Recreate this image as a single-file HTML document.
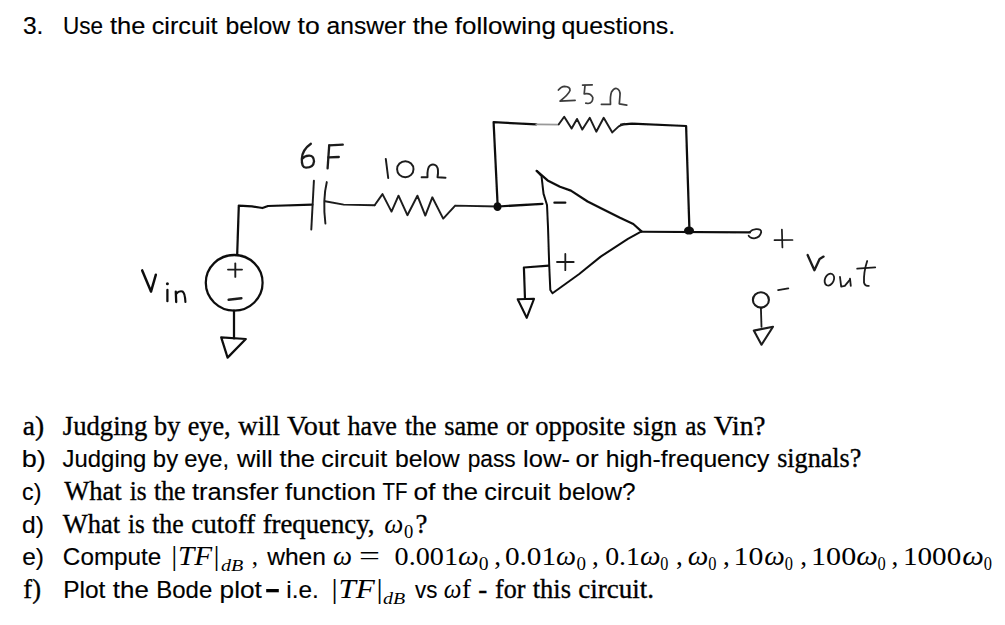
<!DOCTYPE html>
<html><head><meta charset="utf-8"><style>
html,body{margin:0;padding:0;background:#fff;overflow:hidden;}
svg{display:block;}
text{fill:#000;}
</style></head><body>
<svg width="1005" height="625" viewBox="0 0 1005 625">
<rect width="1005" height="625" fill="#fff"/>
<rect x="266.2" y="589" width="12.6" height="3.3" fill="#000"/>
<g class="txt" stroke="#000" stroke-width="0.25">
<text x="23.00" y="34.1" style="font-family:'Liberation Sans',sans-serif;font-size:23.7px;stroke-width:0.15;" textLength="20.44" lengthAdjust="spacingAndGlyphs">3.</text>
<text x="63.05" y="34.1" style="font-family:'Liberation Sans',sans-serif;font-size:23.7px;stroke-width:0.15;" textLength="40.07" lengthAdjust="spacingAndGlyphs">Use</text>
<text x="110.00" y="34.1" style="font-family:'Liberation Sans',sans-serif;font-size:23.7px;stroke-width:0.15;" textLength="35.51" lengthAdjust="spacingAndGlyphs">the</text>
<text x="151.78" y="34.1" style="font-family:'Liberation Sans',sans-serif;font-size:23.7px;stroke-width:0.15;" textLength="65.85" lengthAdjust="spacingAndGlyphs">circuit</text>
<text x="225.42" y="34.1" style="font-family:'Liberation Sans',sans-serif;font-size:23.7px;stroke-width:0.15;" textLength="64.80" lengthAdjust="spacingAndGlyphs">below</text>
<text x="297.64" y="34.1" style="font-family:'Liberation Sans',sans-serif;font-size:23.7px;stroke-width:0.15;" textLength="22.19" lengthAdjust="spacingAndGlyphs">to</text>
<text x="326.52" y="34.1" style="font-family:'Liberation Sans',sans-serif;font-size:23.7px;stroke-width:0.15;" textLength="79.39" lengthAdjust="spacingAndGlyphs">answer</text>
<text x="412.65" y="34.1" style="font-family:'Liberation Sans',sans-serif;font-size:23.7px;stroke-width:0.15;" textLength="35.51" lengthAdjust="spacingAndGlyphs">the</text>
<text x="454.88" y="34.1" style="font-family:'Liberation Sans',sans-serif;font-size:23.7px;stroke-width:0.15;" textLength="101.08" lengthAdjust="spacingAndGlyphs">following</text>
<text x="561.43" y="34.1" style="font-family:'Liberation Sans',sans-serif;font-size:23.7px;stroke-width:0.15;" textLength="113.74" lengthAdjust="spacingAndGlyphs">questions.</text>
<text x="22.80" y="435.3" style="font-family:'Liberation Serif',serif;font-size:27px;stroke-width:0.35;" textLength="21.31" lengthAdjust="spacingAndGlyphs">a)</text>
<text x="62.80" y="435.3" style="font-family:'Liberation Serif',serif;font-size:27px;stroke-width:0.35;" textLength="84.48" lengthAdjust="spacingAndGlyphs">Judging</text>
<text x="154.02" y="435.3" style="font-family:'Liberation Serif',serif;font-size:27px;stroke-width:0.35;" textLength="26.27" lengthAdjust="spacingAndGlyphs">by</text>
<text x="187.67" y="435.3" style="font-family:'Liberation Serif',serif;font-size:27px;stroke-width:0.35;" textLength="42.95" lengthAdjust="spacingAndGlyphs">eye,</text>
<text x="238.32" y="435.3" style="font-family:'Liberation Serif',serif;font-size:27px;stroke-width:0.35;" textLength="41.72" lengthAdjust="spacingAndGlyphs">will</text>
<text x="287.10" y="435.3" style="font-family:'Liberation Serif',serif;font-size:27px;stroke-width:0.35;" textLength="52.74" lengthAdjust="spacingAndGlyphs">Vout</text>
<text x="347.49" y="435.3" style="font-family:'Liberation Serif',serif;font-size:27px;stroke-width:0.35;" textLength="49.49" lengthAdjust="spacingAndGlyphs">have</text>
<text x="404.91" y="435.3" style="font-family:'Liberation Serif',serif;font-size:27px;stroke-width:0.35;" textLength="31.61" lengthAdjust="spacingAndGlyphs">the</text>
<text x="444.31" y="435.3" style="font-family:'Liberation Serif',serif;font-size:27px;stroke-width:0.35;" textLength="54.12" lengthAdjust="spacingAndGlyphs">same</text>
<text x="506.13" y="435.3" style="font-family:'Liberation Serif',serif;font-size:27px;stroke-width:0.35;" textLength="22.09" lengthAdjust="spacingAndGlyphs">or</text>
<text x="535.21" y="435.3" style="font-family:'Liberation Serif',serif;font-size:27px;stroke-width:0.35;" textLength="90.03" lengthAdjust="spacingAndGlyphs">opposite</text>
<text x="633.04" y="435.3" style="font-family:'Liberation Serif',serif;font-size:27px;stroke-width:0.35;" textLength="43.75" lengthAdjust="spacingAndGlyphs">sign</text>
<text x="685.34" y="435.3" style="font-family:'Liberation Serif',serif;font-size:27px;stroke-width:0.35;" textLength="20.93" lengthAdjust="spacingAndGlyphs">as</text>
<text x="713.79" y="435.3" style="font-family:'Liberation Serif',serif;font-size:27px;stroke-width:0.35;" textLength="51.81" lengthAdjust="spacingAndGlyphs">Vin?</text>
<text x="21.66" y="467.2" style="font-family:'Liberation Sans',sans-serif;font-size:23.7px;stroke-width:0.15;" textLength="24.06" lengthAdjust="spacingAndGlyphs">b)</text>
<text x="62.60" y="467.2" style="font-family:'Liberation Sans',sans-serif;font-size:23.7px;stroke-width:0.15;" textLength="83.71" lengthAdjust="spacingAndGlyphs">Judging</text>
<text x="152.86" y="467.2" style="font-family:'Liberation Sans',sans-serif;font-size:23.7px;stroke-width:0.15;" textLength="25.21" lengthAdjust="spacingAndGlyphs">by</text>
<text x="184.23" y="467.2" style="font-family:'Liberation Sans',sans-serif;font-size:23.7px;stroke-width:0.15;" textLength="44.94" lengthAdjust="spacingAndGlyphs">eye,</text>
<text x="237.06" y="467.2" style="font-family:'Liberation Sans',sans-serif;font-size:23.7px;stroke-width:0.15;" textLength="35.58" lengthAdjust="spacingAndGlyphs">will</text>
<text x="279.54" y="467.2" style="font-family:'Liberation Sans',sans-serif;font-size:23.7px;stroke-width:0.15;" textLength="35.51" lengthAdjust="spacingAndGlyphs">the</text>
<text x="321.32" y="467.2" style="font-family:'Liberation Sans',sans-serif;font-size:23.7px;stroke-width:0.15;" textLength="65.86" lengthAdjust="spacingAndGlyphs">circuit</text>
<text x="394.98" y="467.2" style="font-family:'Liberation Sans',sans-serif;font-size:23.7px;stroke-width:0.15;" textLength="64.81" lengthAdjust="spacingAndGlyphs">below</text>
<text x="467.68" y="467.2" style="font-family:'Liberation Sans',sans-serif;font-size:23.7px;stroke-width:0.15;" textLength="47.97" lengthAdjust="spacingAndGlyphs">pass</text>
<text x="523.13" y="467.2" style="font-family:'Liberation Sans',sans-serif;font-size:23.7px;stroke-width:0.15;" textLength="46.79" lengthAdjust="spacingAndGlyphs">low-</text>
<text x="575.64" y="467.2" style="font-family:'Liberation Sans',sans-serif;font-size:23.7px;stroke-width:0.15;" textLength="23.07" lengthAdjust="spacingAndGlyphs">or</text>
<text x="605.85" y="467.2" style="font-family:'Liberation Sans',sans-serif;font-size:23.7px;stroke-width:0.15;" textLength="163.48" lengthAdjust="spacingAndGlyphs">high-frequency</text>
<text x="777.23" y="467.2" style="font-family:'Liberation Serif',serif;font-size:27px;stroke-width:0.35;" textLength="84.02" lengthAdjust="spacingAndGlyphs">signals?</text>
<text x="22.02" y="500.4" style="font-family:'Liberation Sans',sans-serif;font-size:23.7px;stroke-width:0.15;" textLength="19.35" lengthAdjust="spacingAndGlyphs">c)</text>
<text x="64.30" y="500.4" style="font-family:'Liberation Serif',serif;font-size:27px;stroke-width:0.35;" textLength="57.46" lengthAdjust="spacingAndGlyphs">What</text>
<text x="129.68" y="500.4" style="font-family:'Liberation Serif',serif;font-size:27px;stroke-width:0.35;" textLength="16.85" lengthAdjust="spacingAndGlyphs">is</text>
<text x="154.00" y="500.4" style="font-family:'Liberation Serif',serif;font-size:27px;stroke-width:0.35;" textLength="31.59" lengthAdjust="spacingAndGlyphs">the</text>
<text x="192.00" y="500.4" style="font-family:'Liberation Sans',sans-serif;font-size:23.7px;stroke-width:0.15;" textLength="86.48" lengthAdjust="spacingAndGlyphs">transfer</text>
<text x="285.12" y="500.4" style="font-family:'Liberation Sans',sans-serif;font-size:23.7px;stroke-width:0.15;" textLength="90.70" lengthAdjust="spacingAndGlyphs">function</text>
<text x="382.42" y="500.4" style="font-family:'Liberation Sans',sans-serif;font-size:23.7px;stroke-width:0.15;" textLength="25.05" lengthAdjust="spacingAndGlyphs">TF</text>
<text x="413.41" y="500.4" style="font-family:'Liberation Sans',sans-serif;font-size:23.7px;stroke-width:0.15;" textLength="22.00" lengthAdjust="spacingAndGlyphs">of</text>
<text x="442.36" y="500.4" style="font-family:'Liberation Sans',sans-serif;font-size:23.7px;stroke-width:0.15;" textLength="35.67" lengthAdjust="spacingAndGlyphs">the</text>
<text x="484.33" y="500.4" style="font-family:'Liberation Sans',sans-serif;font-size:23.7px;stroke-width:0.15;" textLength="66.16" lengthAdjust="spacingAndGlyphs">circuit</text>
<text x="558.35" y="500.4" style="font-family:'Liberation Sans',sans-serif;font-size:23.7px;stroke-width:0.15;" textLength="77.23" lengthAdjust="spacingAndGlyphs">below?</text>
<text x="21.96" y="532.5" style="font-family:'Liberation Sans',sans-serif;font-size:23.7px;stroke-width:0.15;" textLength="21.86" lengthAdjust="spacingAndGlyphs">d)</text>
<text x="62.80" y="532.5" style="font-family:'Liberation Serif',serif;font-size:27px;stroke-width:0.35;" textLength="57.26" lengthAdjust="spacingAndGlyphs">What</text>
<text x="127.95" y="532.5" style="font-family:'Liberation Serif',serif;font-size:27px;stroke-width:0.35;" textLength="16.79" lengthAdjust="spacingAndGlyphs">is</text>
<text x="152.19" y="532.5" style="font-family:'Liberation Serif',serif;font-size:27px;stroke-width:0.35;" textLength="31.48" lengthAdjust="spacingAndGlyphs">the</text>
<text x="191.31" y="532.5" style="font-family:'Liberation Serif',serif;font-size:27px;stroke-width:0.35;" textLength="63.84" lengthAdjust="spacingAndGlyphs">cutoff</text>
<text x="262.68" y="532.5" style="font-family:'Liberation Serif',serif;font-size:27px;stroke-width:0.35;" textLength="111.86" lengthAdjust="spacingAndGlyphs">frequency,</text>
<text x="384.20" y="532.5" style="font-family:'Liberation Serif',serif;font-size:27px;font-style:italic;stroke:none;" textLength="19.06" lengthAdjust="spacingAndGlyphs">ω</text>
<text x="403.90" y="537.9" style="font-family:'Liberation Serif',serif;font-size:18px;stroke:none;" textLength="9.30" lengthAdjust="spacingAndGlyphs">0</text>
<text x="415.41" y="532.5" style="font-family:'Liberation Serif',serif;font-size:27px;stroke-width:0.35;" textLength="11.86" lengthAdjust="spacingAndGlyphs">?</text>
<text x="22.27" y="564.5" style="font-family:'Liberation Sans',sans-serif;font-size:23.7px;stroke-width:0.15;" textLength="21.75" lengthAdjust="spacingAndGlyphs">e)</text>
<text x="62.88" y="564.5" style="font-family:'Liberation Sans',sans-serif;font-size:23.7px;stroke-width:0.15;" textLength="98.50" lengthAdjust="spacingAndGlyphs">Compute</text>
<text x="169.85" y="564.5" style="font-family:'Liberation Serif',serif;font-size:27px;font-style:italic;stroke:none;" textLength="50.28" lengthAdjust="spacingAndGlyphs">|TF|</text>
<text x="220.90" y="570.5" style="font-family:'Liberation Serif',serif;font-size:16px;font-style:italic;stroke:none;" textLength="22.32" lengthAdjust="spacingAndGlyphs">dB</text>
<text x="251.80" y="564.5" style="font-family:'Liberation Serif',serif;font-size:25px;stroke:none;">,</text>
<text x="267.24" y="564.5" style="font-family:'Liberation Sans',sans-serif;font-size:23.7px;stroke-width:0.15;" textLength="58.68" lengthAdjust="spacingAndGlyphs">when</text>
<text x="333.00" y="564.5" style="font-family:'Liberation Serif',serif;font-size:27px;font-style:italic;stroke:none;" textLength="18.96" lengthAdjust="spacingAndGlyphs">ω</text>
<text x="359.12" y="564.5" style="font-family:'Liberation Serif',serif;font-size:27px;stroke:none;" textLength="20.97" lengthAdjust="spacingAndGlyphs">=</text>
<text x="394.60" y="564.5" style="font-family:'Liberation Serif',serif;font-size:26px;stroke:none;" textLength="63.38" lengthAdjust="spacingAndGlyphs">0.001</text>
<text x="457.90" y="564.5" style="font-family:'Liberation Serif',serif;font-size:27px;font-style:italic;stroke:none;" textLength="20.76" lengthAdjust="spacingAndGlyphs">ω</text>
<text x="478.70" y="570.3" style="font-family:'Liberation Serif',serif;font-size:18px;stroke:none;" textLength="9.80" lengthAdjust="spacingAndGlyphs">0</text>
<text x="494.25" y="564.5" style="font-family:'Liberation Serif',serif;font-size:27px;stroke:none;">,</text>
<text x="504.90" y="564.5" style="font-family:'Liberation Serif',serif;font-size:26px;stroke:none;" textLength="51.23" lengthAdjust="spacingAndGlyphs">0.01</text>
<text x="556.10" y="564.5" style="font-family:'Liberation Serif',serif;font-size:27px;font-style:italic;stroke:none;" textLength="20.02" lengthAdjust="spacingAndGlyphs">ω</text>
<text x="576.60" y="570.3" style="font-family:'Liberation Serif',serif;font-size:18px;stroke:none;" textLength="9.50" lengthAdjust="spacingAndGlyphs">0</text>
<text x="591.90" y="564.5" style="font-family:'Liberation Serif',serif;font-size:27px;stroke:none;">,</text>
<text x="605.20" y="564.5" style="font-family:'Liberation Serif',serif;font-size:26px;stroke:none;" textLength="34.77" lengthAdjust="spacingAndGlyphs">0.1</text>
<text x="639.90" y="564.5" style="font-family:'Liberation Serif',serif;font-size:27px;font-style:italic;stroke:none;" textLength="20.55" lengthAdjust="spacingAndGlyphs">ω</text>
<text x="660.30" y="570.3" style="font-family:'Liberation Serif',serif;font-size:18px;stroke:none;" textLength="8.10" lengthAdjust="spacingAndGlyphs">0</text>
<text x="675.90" y="564.5" style="font-family:'Liberation Serif',serif;font-size:27px;stroke:none;">,</text>
<text x="687.80" y="564.5" style="font-family:'Liberation Serif',serif;font-size:27px;font-style:italic;stroke:none;" textLength="20.55" lengthAdjust="spacingAndGlyphs">ω</text>
<text x="708.20" y="570.3" style="font-family:'Liberation Serif',serif;font-size:18px;stroke:none;" textLength="8.20" lengthAdjust="spacingAndGlyphs">0</text>
<text x="722.90" y="564.5" style="font-family:'Liberation Serif',serif;font-size:27px;stroke:none;">,</text>
<text x="733.51" y="564.5" style="font-family:'Liberation Serif',serif;font-size:26px;stroke:none;" textLength="29.79" lengthAdjust="spacingAndGlyphs">10</text>
<text x="764.30" y="564.5" style="font-family:'Liberation Serif',serif;font-size:27px;font-style:italic;stroke:none;" textLength="20.55" lengthAdjust="spacingAndGlyphs">ω</text>
<text x="784.70" y="570.3" style="font-family:'Liberation Serif',serif;font-size:18px;stroke:none;" textLength="8.20" lengthAdjust="spacingAndGlyphs">0</text>
<text x="800.35" y="564.5" style="font-family:'Liberation Serif',serif;font-size:27px;stroke:none;">,</text>
<text x="811.09" y="564.5" style="font-family:'Liberation Serif',serif;font-size:26px;stroke:none;" textLength="45.11" lengthAdjust="spacingAndGlyphs">100</text>
<text x="856.20" y="564.5" style="font-family:'Liberation Serif',serif;font-size:27px;font-style:italic;stroke:none;" textLength="21.61" lengthAdjust="spacingAndGlyphs">ω</text>
<text x="877.60" y="570.3" style="font-family:'Liberation Serif',serif;font-size:18px;stroke:none;" textLength="8.20" lengthAdjust="spacingAndGlyphs">0</text>
<text x="891.45" y="564.5" style="font-family:'Liberation Serif',serif;font-size:27px;stroke:none;">,</text>
<text x="902.96" y="564.5" style="font-family:'Liberation Serif',serif;font-size:26px;stroke:none;" textLength="58.34" lengthAdjust="spacingAndGlyphs">1000</text>
<text x="962.30" y="564.5" style="font-family:'Liberation Serif',serif;font-size:27px;font-style:italic;stroke:none;" textLength="21.61" lengthAdjust="spacingAndGlyphs">ω</text>
<text x="983.70" y="570.3" style="font-family:'Liberation Serif',serif;font-size:18px;stroke:none;" textLength="8.20" lengthAdjust="spacingAndGlyphs">0</text>
<text x="23.30" y="597.5" style="font-family:'Liberation Serif',serif;font-size:27px;stroke-width:0.35;" textLength="17.67" lengthAdjust="spacingAndGlyphs">f)</text>
<text x="63.17" y="597.5" style="font-family:'Liberation Sans',sans-serif;font-size:23.7px;stroke-width:0.15;" textLength="42.19" lengthAdjust="spacingAndGlyphs">Plot</text>
<text x="112.83" y="597.5" style="font-family:'Liberation Sans',sans-serif;font-size:23.7px;stroke-width:0.15;" textLength="36.03" lengthAdjust="spacingAndGlyphs">the</text>
<text x="156.29" y="597.5" style="font-family:'Liberation Sans',sans-serif;font-size:23.7px;stroke-width:0.15;" textLength="56.01" lengthAdjust="spacingAndGlyphs">Bode</text>
<text x="219.62" y="597.5" style="font-family:'Liberation Sans',sans-serif;font-size:23.7px;stroke-width:0.15;" textLength="42.31" lengthAdjust="spacingAndGlyphs">plot</text>
<text x="286.27" y="597.5" style="font-family:'Liberation Sans',sans-serif;font-size:23.7px;stroke-width:0.15;" textLength="32.56" lengthAdjust="spacingAndGlyphs">i.e.</text>
<text x="329.83" y="597.5" style="font-family:'Liberation Serif',serif;font-size:27px;font-style:italic;stroke:none;" textLength="53.57" lengthAdjust="spacingAndGlyphs">|TF|</text>
<text x="383.10" y="603.5" style="font-family:'Liberation Serif',serif;font-size:16px;font-style:italic;stroke:none;" textLength="22.12" lengthAdjust="spacingAndGlyphs">dB</text>
<text x="415.10" y="597.5" style="font-family:'Liberation Sans',sans-serif;font-size:23.7px;stroke-width:0.15;" textLength="22.29" lengthAdjust="spacingAndGlyphs">vs</text>
<text x="443.80" y="597.5" style="font-family:'Liberation Serif',serif;font-size:27px;font-style:italic;stroke:none;" textLength="17.69" lengthAdjust="spacingAndGlyphs">ω</text>
<text x="461.80" y="597.5" style="font-family:'Liberation Serif',serif;font-size:28px;stroke:none;">f</text>
<text x="478.20" y="597.5" style="font-family:'Liberation Serif',serif;font-size:27px;stroke-width:0.35;">-</text>
<text x="495.10" y="597.5" style="font-family:'Liberation Serif',serif;font-size:27px;stroke-width:0.35;" textLength="30.41" lengthAdjust="spacingAndGlyphs">for</text>
<text x="532.77" y="597.5" style="font-family:'Liberation Serif',serif;font-size:27px;stroke-width:0.35;" textLength="38.27" lengthAdjust="spacingAndGlyphs">this</text>
<text x="578.29" y="597.5" style="font-family:'Liberation Serif',serif;font-size:27px;stroke-width:0.35;" textLength="75.66" lengthAdjust="spacingAndGlyphs">circuit.</text>
</g>
<defs><filter id="soft" x="-5%" y="-5%" width="110%" height="110%"><feGaussianBlur stdDeviation="0.35"/></filter></defs>
<g fill="none" stroke="#111" stroke-width="2.25" stroke-linecap="round" stroke-linejoin="round" filter="url(#soft)">
<!-- Vin source -->
<ellipse cx="234.2" cy="282.8" rx="28.4" ry="27.8"/>
<polyline points="237.2,254.2 238.8,205.6 252,206.4 262.4,208 268,206 312.4,204.6"/>
<polyline points="234,310.6 234,338.4"/>
<polygon points="221.2,337.4 245.8,339 227.6,357.6"/>
<polyline points="142.2,270.4 151,291.6 155.8,274.8" stroke-width="2.5"/>
<polyline points="167.4,290 167.4,301.2" stroke-width="2.3"/>
<polyline points="175.8,291.6 176.2,302" stroke-width="2.3"/>
<path d="M176,294 Q179,290.5 182.5,291.5 Q185,293 185.4,302" stroke-width="2.1"/>
<!-- wires -->
<polyline points="497.7,206.5 493.6,122.2 536.3,124.3"/>
<polyline points="536.3,124.3 558.8,124.6" stroke="#999" stroke-width="1.8"/>
<polyline points="621,124.6 632,123.6 686.1,126 689.4,229.1"/>
<polyline points="497.7,206.5 542.5,203.8"/>
<!-- opamp -->
<polyline points="536.7,170.9 541.5,176 543.5,193.6 547,205 548,227 549.2,265 550.3,290 552.5,293.3 578.9,274.3 600.7,256.6 627.9,238.9 641.5,231.3" stroke-width="2"/>
<polyline points="536.7,170.9 547.6,180.4 560,186.7 570.9,190.6 587.6,201.5 601,208.2 620,217.8 633.3,224 641.5,231.3"/>
<polyline points="641.5,231.8 749.9,232.4" stroke-width="2.1"/>
<polyline points="554.4,202.7 565.3,202.7"/>
<polyline points="549,265.6 523.9,267.5 525,298.8" stroke-width="2.2"/>
<polygon points="517.7,299.3 534,298.8 526.7,317.8" stroke-width="2.1"/>
</g>
<g fill="none" stroke="#1c1c1c" stroke-width="1.95" stroke-linecap="round" stroke-linejoin="round" filter="url(#soft)">
<polyline points="313.9,180.7 311.3,229.5"/>
<path d="M326.8,182.1 Q322.5,200 325.4,223.5"/>
<polyline points="325,201.2 343.7,204.6 374.6,205.2"/>
<polyline points="374.6,205.2 382.5,194.1 391.5,211.6 398.5,195.7 407.4,215.2 417.4,195.7 425.3,215.6 432.3,197.3 443.2,218.6 455.2,205.6 497.7,206.5"/>
<polyline points="558.8,124.3 564.2,116.8 571.6,128.5 577,118.9 582.3,129.6 589.8,117.8 596.3,131.7 603.7,117.8 612.3,132.4 618.7,126.4 624.1,123.8"/>
<!-- Vin signs -->
<polyline points="228,269.6 242,269.6" stroke-width="1.9"/>
<polyline points="235.3,263.4 235.3,276.9" stroke-width="1.9"/>
<polyline points="228.6,299.8 241.4,298.2" stroke-width="2.4"/>
<!-- opamp + -->
<polyline points="557,262 573.7,262" stroke-width="1.8"/>
<polyline points="565.3,253.9 565.3,270.2" stroke-width="1.8"/>
<!-- 6F -->
<path d="M310.9,143.8 Q302,150 301.8,159 Q301.5,167.5 306,167.6 Q313.5,167.5 314,161.3 Q313.8,155.5 309,155.7 Q304.5,156 302.2,158.9" stroke-width="2.3"/>
<polyline points="329.2,145.4 327.6,168.4" stroke-width="2.3"/>
<polyline points="329.2,145.4 342.8,144.6" stroke-width="2.3"/>
<polyline points="328.4,157.3 338.8,157" stroke-width="2.3"/>
<!-- 10 ohm -->
<polyline points="385.8,158.9 388.2,178"/>
<ellipse cx="405.3" cy="169.2" rx="8.2" ry="8"/>
<path d="M421.6,177.2 L427.5,177.2 Q427,168 430,165.5 Q433.5,163.5 436.5,166 Q439,169 437.5,177.2 L445.5,177.7"/>
</g>
<g fill="none" stroke="#1a1a1a" stroke-width="1.8" stroke-linecap="round" stroke-linejoin="round" filter="url(#soft)">
<!-- Vout -->
<path d="M749.6,232.2 Q752,229.5 756,229.2 Q761.6,228.8 761.2,232.3 Q760,237.6 754.2,238.3 Q749.8,238.2 748.6,235.7" stroke-width="1.8"/>
<polyline points="774.5,240.2 792.5,240" stroke-width="1.7"/>
<polyline points="781.9,229.6 782.4,247.5" stroke-width="1.7"/>
<polyline points="807.6,255 814.4,270.2 819.6,259 823.6,256.6" stroke-width="2.3"/>
<ellipse cx="829.4" cy="279.6" rx="4.4" ry="6.2" transform="rotate(25 829.4 279.6)"/>
<polyline points="840,277 841.2,286.6 844.8,285.8 849.6,280.2"/>
<polyline points="850,278.6 850.8,285.8"/>
<path d="M867.2,261 Q863.5,272 864,282.6 Q865,286.5 868.8,285.8"/>
<polyline points="857.2,268.6 875.2,267.4"/>
<polyline points="778.1,290.1 788.3,288.3"/>
<ellipse cx="760.9" cy="299.9" rx="8" ry="7.7" stroke-width="2.1"/>
<polyline points="760.9,307.6 761.5,326.8"/>
<polygon points="753.8,330.6 773,326.8 761.5,344.7" stroke-width="2.1"/>
</g>
<g fill="none" stroke="#3c3c3c" stroke-width="1.7" stroke-linecap="round" stroke-linejoin="round" filter="url(#soft)">
<!-- 25 ohm -->
<path d="M558.4,90 Q561.5,86.4 564.5,86.4 Q570.3,86.6 570,90.5 Q568.5,94.5 560,101.1 L575.1,100.3"/>
<polyline points="582.6,85.2 592.2,84.9"/>
<path d="M585,85.5 L584.2,93.9 Q590.5,92.5 592.8,97.5 Q593,103 588,103.5 L585.8,103.1"/>
<path d="M601.4,104.3 L610.5,104.3 Q610,95.9 611.5,92 Q614,88 616.5,88.5 Q620.5,90 620,95 L619.3,103.9 L626.8,105.1"/>
</g>
<g fill="#111" stroke="none" filter="url(#soft)">
<ellipse cx="497.5" cy="206.7" rx="4" ry="4.4"/>
<ellipse cx="689" cy="230.6" rx="5" ry="4"/>
<circle cx="167.4" cy="283.8" r="1.5"/>
</g>

</svg>
</body></html>
